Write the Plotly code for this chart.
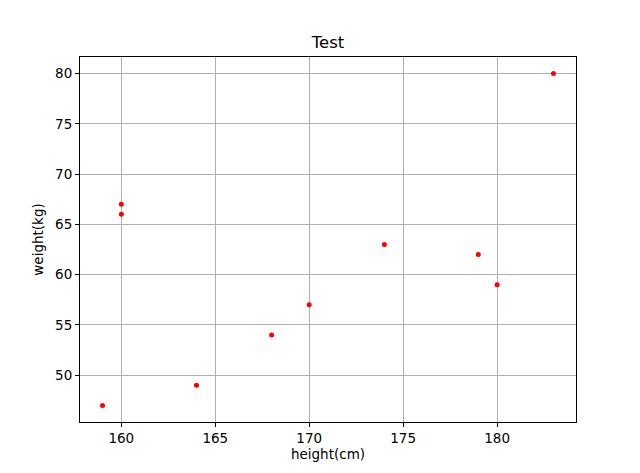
import plotly.graph_objects as go

heights = [159, 160, 160, 164, 168, 170, 174, 179, 180, 183]
weights = [47, 67, 66, 49, 54, 57, 63, 62, 59, 80]

x_ticks = [160, 165, 170, 175, 180]
y_ticks = [50, 55, 60, 65, 70, 75, 80]

fig = go.Figure()
fig.add_trace(go.Scatter(
    x=heights, y=weights, mode="markers",
    marker=dict(color="red", size=5, line=dict(width=0)),
))

axis_style = dict(
    showgrid=True, gridcolor="#b0b0b0", gridwidth=1,
    showline=True, linecolor="black", linewidth=1, mirror=True,
    ticks="outside", ticklen=4, tickcolor="black",
    zeroline=False, tickfont=dict(size=13.5, color="black"),
    title_font=dict(size=13.5, color="black"),
)

fig.update_xaxes(range=[157.8, 184.2], tickvals=x_ticks,
                 title=dict(text="height(cm)", standoff=4), **axis_style)
fig.update_yaxes(range=[45.35, 81.65], tickvals=y_ticks,
                 title=dict(text="weight(kg)", standoff=8), **axis_style)

# page body has an 8px margin, so shift the plot area back
fig.update_layout(
    width=640, height=473,
    margin=dict(l=72, r=72, t=49, b=59),
    paper_bgcolor="white", plot_bgcolor="white",
    font=dict(family="DejaVu Sans", color="black"),
    title=dict(text="Test", x=0.5, xanchor="center", xref="paper",
               y=1, yref="paper", yanchor="bottom", pad=dict(b=9),
               font=dict(size=16.5, color="black")),
    showlegend=False,
)

fig.write_html("out.html")
